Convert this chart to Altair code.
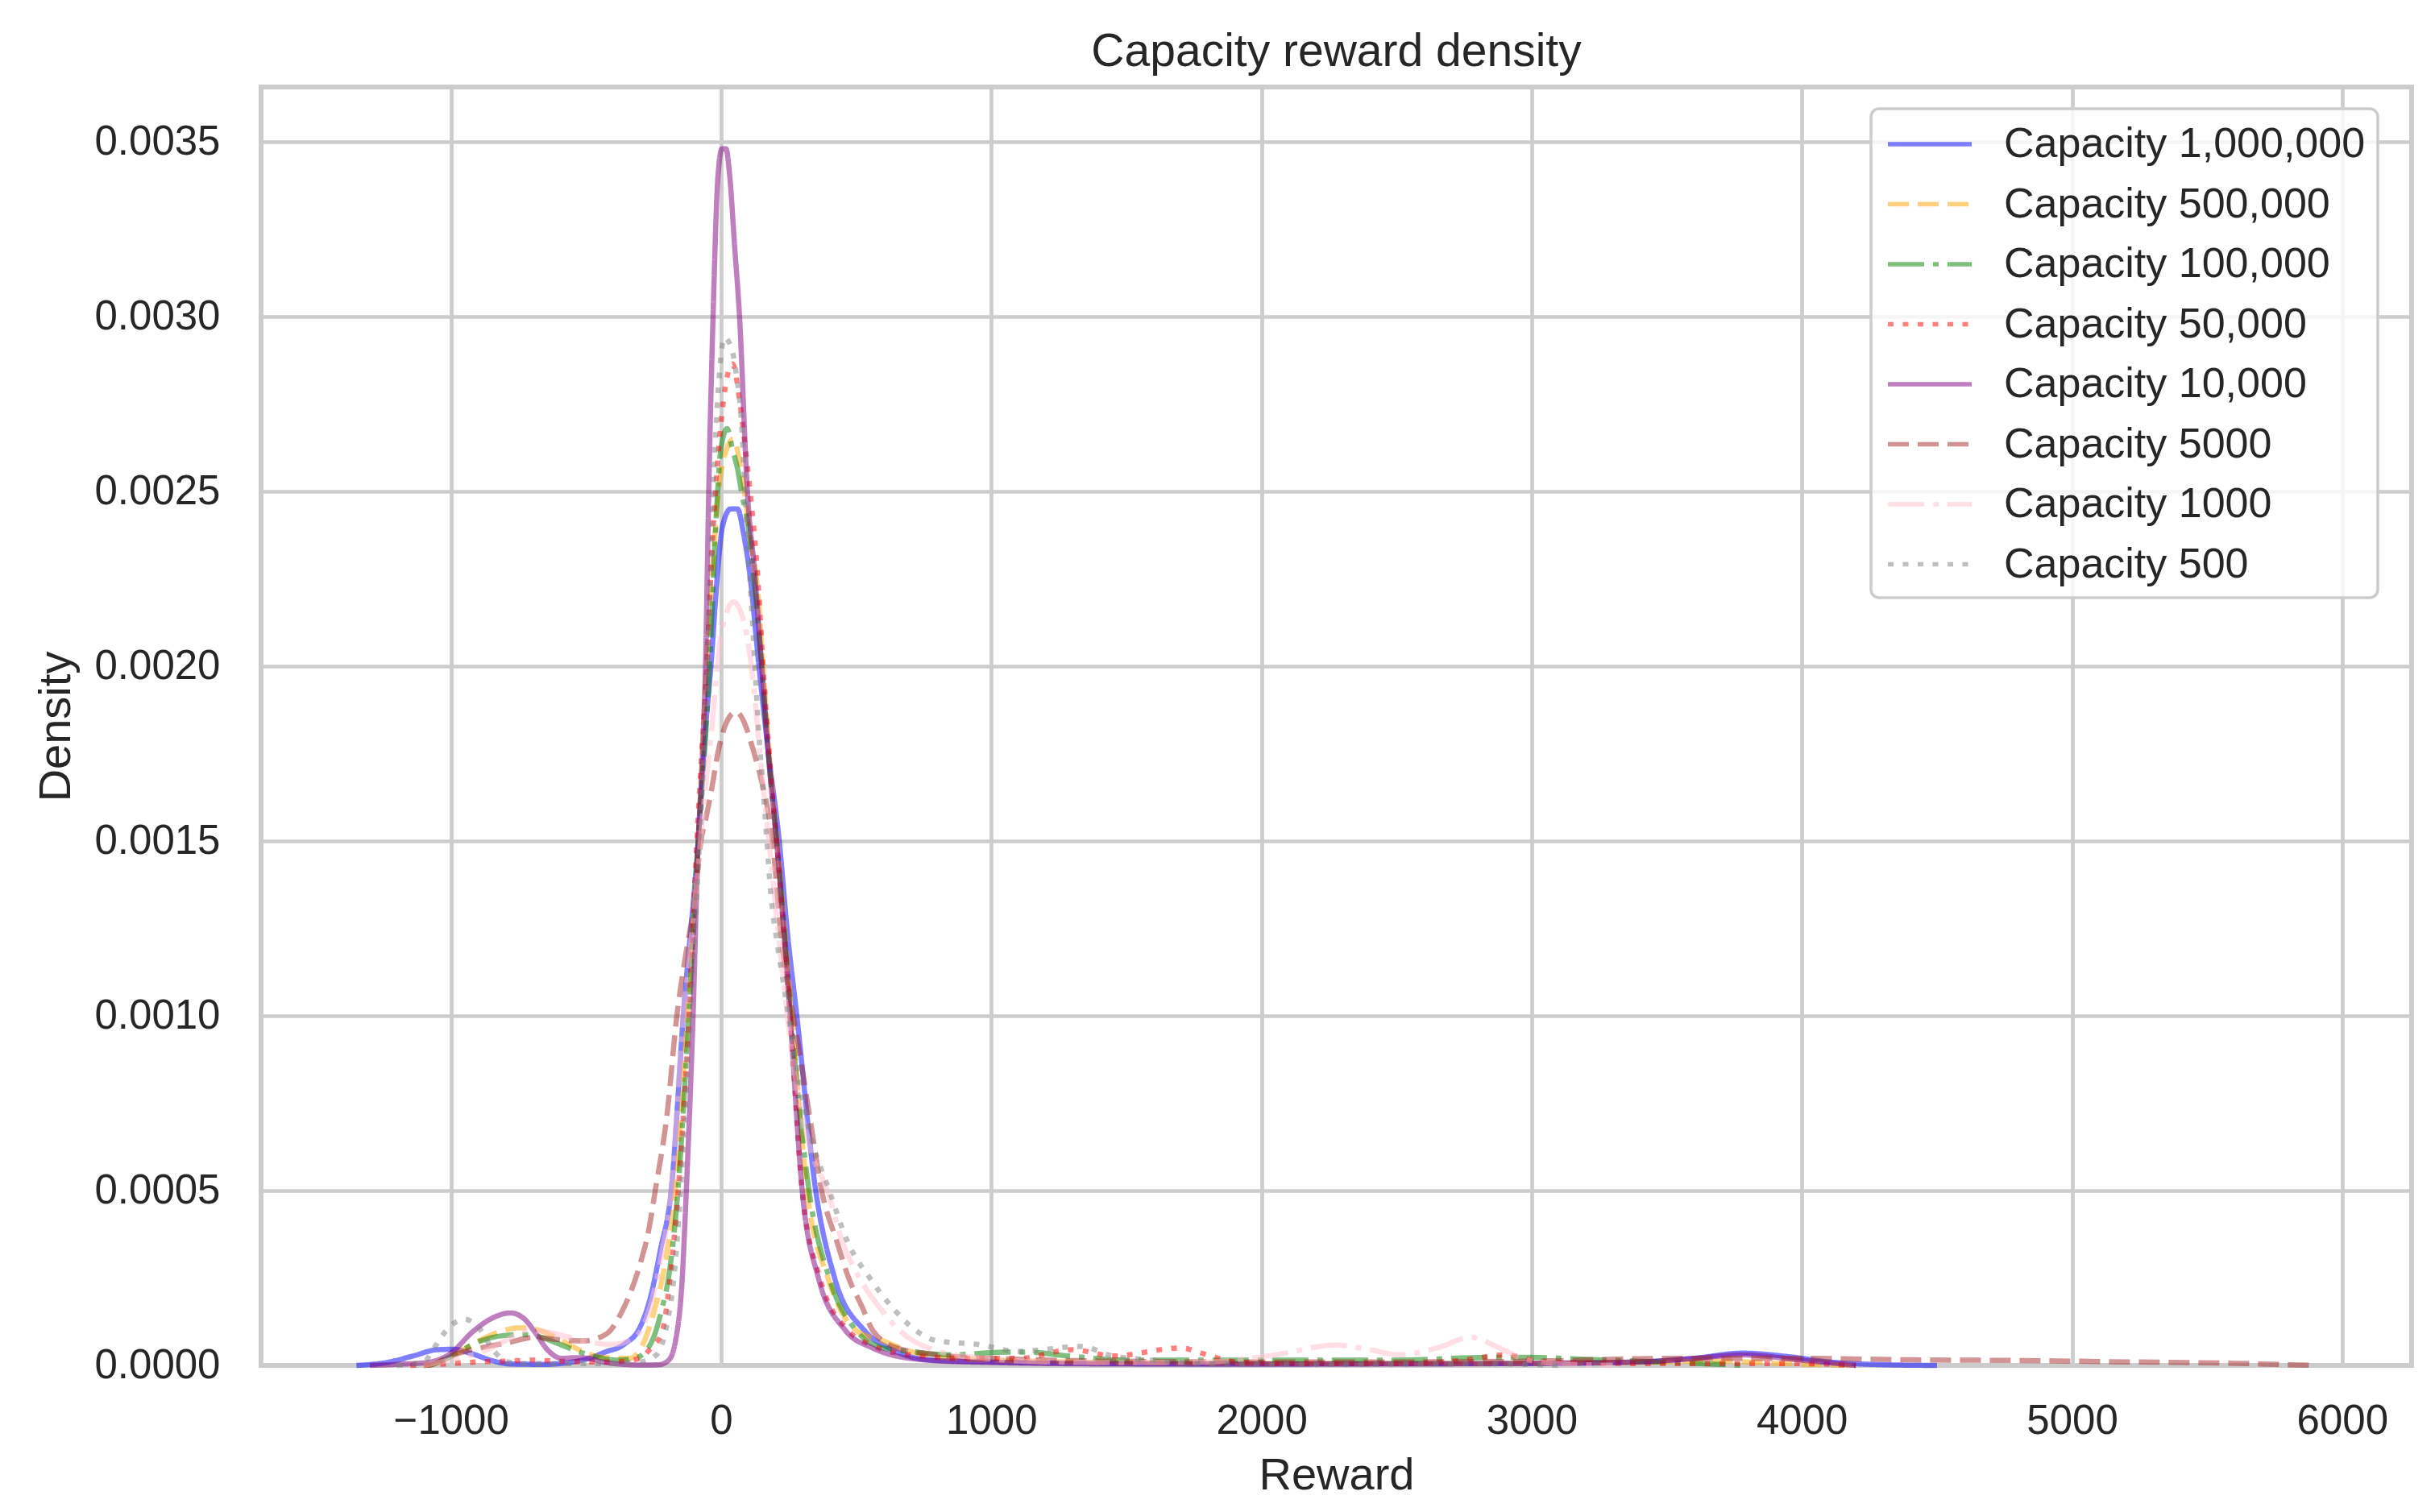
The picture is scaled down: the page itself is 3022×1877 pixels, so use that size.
import altair as alt
import pandas as pd

FONT = "Liberation Sans"
TEXT = "#262626"

series_names = [
    "Capacity 1,000,000", "Capacity 500,000", "Capacity 100,000", "Capacity 50,000",
    "Capacity 10,000", "Capacity 5000", "Capacity 1000", "Capacity 500",
]
series_colors = ["#0000ff", "#ffa500", "#008000", "#ff0000", "#800080", "#a52a2a", "#ffc0cb", "#808080"]
series_dashes = [[1, 0], [26, 11], [45, 11, 7, 11], [7, 11.5], [1, 0], [26, 11], [45, 11, 7, 11], [7, 11.5]]

cap_1m_x = [-1350, -1240, -1140, -1050, -990, -930, -840, -780, -650, -550,
            -490, -430, -360, -300, -260, -225, -185, -140, -85, -60,
            -35, -20, 5, 35, 60, 85, 105, 140, 175, 215,
            245, 280, 350, 420, 530, 620, 780, 1000, 1500, 2000,
            2500, 3000, 3400, 3600, 3780, 3950, 4100, 4300, 4500]
cap_1m_y = [0, 8e-6, 2.7e-5, 4.5e-5, 4.6e-5, 3.5e-5, 1.2e-5, 4e-6, 3e-6, 1e-5,
            2e-5, 3.8e-5, 6e-5, 1.1e-4, 2e-4, 3.3e-4, 5e-4, 1e-3, 1.5e-3, 1.8e-3,
            2.03e-3, 2.2e-3, 2.4e-3, 2.45e-3, 2.45e-3, 2.37e-3, 2.27e-3, 2e-3, 1.75e-3, 1.5e-3,
            1.24e-3, 1e-3, 5e-4, 2.5e-4, 1e-4, 5e-5, 1.5e-5, 1e-5, 5e-6, 4e-6,
            5e-6, 5e-6, 1e-5, 2e-5, 3.5e-5, 2.5e-5, 1e-5, 2e-6, 0]

cap_500k_x = [-1100, -1070, -990, -890, -820, -750, -690, -610, -540, -440,
              -340, -290, -250, -210, -170, -125, -85, -55, -30, -10,
              20, 45, 70, 95, 110, 135, 155, 183, 210, 238,
              262, 318, 395, 500, 600, 700, 800, 1000, 1500, 2000,
              2500, 3000, 3500, 3700, 3900, 4200]
cap_500k_y = [0, 3e-6, 3e-5, 7.3e-5, 9.6e-5, 1.08e-4, 1.04e-4, 8e-5, 5e-5, 2.3e-5,
              2e-5, 6e-5, 1.5e-4, 2.8e-4, 5e-4, 1e-3, 1.5e-3, 2e-3, 2.3e-3, 2.5e-3,
              2.62e-3, 2.65e-3, 2.58e-3, 2.45e-3, 2.35e-3, 2.22e-3, 2e-3, 1.7e-3, 1.48e-3, 1.22e-3,
              1e-3, 5e-4, 2.5e-4, 1e-4, 7e-5, 4e-5, 2.5e-5, 1.5e-5, 8e-6, 6e-6,
              6e-6, 6e-6, 1e-5, 1.2e-5, 6e-6, 0]

cap_100k_x = [-1100, -1070, -990, -890, -810, -730, -690, -590, -490, -390,
              -320, -280, -250, -220, -195, -160, -120, -85, -45, -35,
              -25, -13, -3, 22, 42, 62, 75, 100, 125, 150,
              180, 208, 236, 258, 325, 400, 500, 600, 700, 850,
              1050, 1130, 1283, 1500, 2000, 2500, 2850, 3000, 3175, 3400,
              3600, 3800]
cap_100k_y = [0, 3e-6, 3e-5, 7e-5, 8.5e-5, 8.8e-5, 8.5e-5, 5.8e-5, 3e-5, 1.5e-5,
              2e-5, 4e-5, 8e-5, 1.6e-4, 2.5e-4, 5e-4, 1e-3, 1.5e-3, 1.97e-3, 2.14e-3,
              2.32e-3, 2.5e-3, 2.61e-3, 2.68e-3, 2.62e-3, 2.56e-3, 2.5e-3, 2.4e-3, 2.22e-3, 2e-3,
              1.7e-3, 1.48e-3, 1.22e-3, 1e-3, 5e-4, 2.5e-4, 1e-4, 5e-5, 4e-5, 3e-5,
              3.8e-5, 3.8e-5, 2.7e-5, 1.5e-5, 1.5e-5, 1.5e-5, 2.3e-5, 2.3e-5, 1.8e-5, 1.2e-5,
              6e-6, 0]

cap_50k_x = [-1150, -1000, -900, -800, -700, -600, -500, -400, -300, -260,
             -219, -189, -159, -119, -90, -72, -53, -38, -21, 0,
             20, 42, 70, 90, 107, 135, 155, 183, 205, 232,
             255, 300, 365, 470, 550, 700, 900, 1100, 1300, 1450,
             1700, 1800, 1900, 2100, 2500, 2750, 2900, 3050, 3500, 4000, 4200]
cap_50k_y = [0, 5e-6, 1e-5, 1.2e-5, 1.5e-5, 1.2e-5, 1e-5, 1e-5, 2e-5, 5e-5,
             9.4e-5, 2.5e-4, 5e-4, 1e-3, 1.5e-3, 1.75e-3, 2e-3, 2.27e-3, 2.5e-3, 2.7e-3,
             2.82e-3, 2.865e-3, 2.75e-3, 2.62e-3, 2.5e-3, 2.26e-3, 2e-3, 1.7e-3, 1.5e-3, 1.24e-3,
             1e-3, 5e-4, 2.5e-4, 1e-4, 6e-5, 3e-5, 2e-5, 2e-5, 4.5e-5, 2.7e-5,
             5e-5, 3e-5, 1e-5, 5e-6, 5e-6, 1.5e-5, 3e-5, 1e-5, 5e-6, 5e-6, 0]

cap_10k_x = [-1300, -1200, -1090, -1000, -920, -840, -780, -730, -690, -640,
             -590, -540, -490, -440, -360, -290, -230, -194, -169, -144,
             -129, -104, -85, -71, -58, -46, -30, -12, 3, 18,
             32, 50, 68, 97, 125, 150, 180, 205, 232, 255,
             300, 360, 460, 560, 700, 900, 1500, 2500, 3400, 3600,
             3780, 4000, 4200]
cap_10k_y = [0, 3e-6, 8e-6, 3.5e-5, 9.6e-5, 1.38e-4, 1.5e-4, 1.34e-4, 9.6e-5, 4.2e-5,
             2e-5, 2.2e-5, 2e-5, 1e-5, 3e-6, 1e-6, 2e-6, 1.5e-5, 7e-5, 2.5e-4,
             5e-4, 1e-3, 1.5e-3, 1.71e-3, 2e-3, 2.5e-3, 3e-3, 3.4e-3, 3.48e-3, 3.48e-3,
             3.4e-3, 3.2e-3, 3e-3, 2.5e-3, 2.26e-3, 2e-3, 1.7e-3, 1.5e-3, 1.24e-3, 1e-3,
             5e-4, 2.5e-4, 1e-4, 5e-5, 2e-5, 1e-5, 4e-6, 4e-6, 1e-5, 2e-5,
             3e-5, 1.5e-5, 0]

cap_5000_x = [-1100, -1070, -990, -890, -790, -690, -590, -510, -450, -410,
              -370, -330, -300, -270, -244, -200, -164, -130, -100, -75,
              -55, -35, -10, 20, 55, 85, 115, 150, 170, 190,
              220, 260, 285, 330, 372, 430, 472, 520, 561, 650,
              800, 1000, 1500, 2000, 2500, 3000, 3500, 4000, 4400, 4800,
              5200, 5600, 5800, 5900]
cap_5000_y = [0, 3e-6, 3e-5, 5e-5, 6.5e-5, 8e-5, 7.3e-5, 7e-5, 8e-5, 1e-4,
              1.5e-4, 2.2e-4, 2.9e-4, 3.8e-4, 5e-4, 7.2e-4, 1e-3, 1.18e-3, 1.32e-3, 1.5e-3,
              1.57e-3, 1.65e-3, 1.76e-3, 1.84e-3, 1.87e-3, 1.84e-3, 1.77e-3, 1.67e-3, 1.6e-3, 1.5e-3,
              1.24e-3, 1.03e-3, 9.2e-4, 7e-4, 5e-4, 3.5e-4, 2.5e-4, 1.7e-4, 1e-4, 5e-5,
              3e-5, 2e-5, 1.2e-5, 1e-5, 1e-5, 1.2e-5, 2e-5, 2e-5, 1.6e-5, 1.4e-5,
              1e-5, 6e-6, 2e-6, 0]

cap_1000_x = [-1100, -980, -880, -800, -720, -640, -560, -480, -400, -320,
              -270, -225, -185, -140, -100, -65, -35, -20, 0, 45,
              80, 110, 150, 190, 230, 280, 330, 393, 450, 512,
              595, 660, 805, 977, 1200, 1500, 1800, 2050, 2275, 2400,
              2510, 2650, 2775, 2880, 2965, 3100, 3300]
cap_1000_y = [0, 2e-5, 4e-5, 7e-5, 1e-4, 9.5e-5, 8e-5, 6.5e-5, 6e-5, 8e-5,
              1.5e-4, 3e-4, 5e-4, 1e-3, 1.3e-3, 1.6e-3, 1.82e-3, 1.95e-3, 2.09e-3, 2.184e-3,
              2.14e-3, 2.01e-3, 1.7e-3, 1.4e-3, 1.1e-3, 8e-4, 6.2e-4, 5e-4, 3.5e-4, 2.5e-4,
              1.57e-4, 1e-4, 4e-5, 2e-5, 1e-5, 8e-6, 1e-5, 3e-5, 5.8e-5, 4.5e-5,
              3e-5, 5e-5, 8e-5, 5e-5, 2e-5, 5e-6, 0]

cap_500_x = [-1200, -1100, -1070, -1040, -1000, -950, -900, -840, -790, -700,
             -500, -300, -240, -200, -175, -150, -115, -80, -50, -30,
             -10, 12, 42, 57, 72, 95, 118, 140, 160, 185,
             205, 225, 245, 280, 330, 400, 470, 550, 640, 720,
             800, 950, 1100, 1330, 1450, 1600, 1800, 2200, 2800, 3100]
cap_500_y = [0, 1e-5, 4e-5, 7.7e-5, 1.14e-4, 1.32e-4, 1.1e-4, 4e-5, 1e-5, 5e-6,
             5e-6, 1e-5, 3e-5, 1.2e-4, 2.5e-4, 5e-4, 1e-3, 1.5e-3, 2e-3, 2.5e-3,
             2.8e-3, 2.94e-3, 2.9e-3, 2.83e-3, 2.73e-3, 2.4e-3, 2.1e-3, 1.8e-3, 1.6e-3, 1.34e-3,
             1.22e-3, 1.12e-3, 1.02e-3, 8.5e-4, 6.6e-4, 5e-4, 3.5e-4, 2.5e-4, 1.6e-4, 1e-4,
             7e-5, 6e-5, 4e-5, 5.4e-5, 2.7e-5, 1.5e-5, 5e-6, 3e-6, 5e-6, 0]

x_ticks = [-1000, 0, 1000, 2000, 3000, 4000, 5000, 6000]
y_ticks = [0, 0.0005, 0.001, 0.0015, 0.002, 0.0025, 0.003, 0.0035]

all_x = [cap_1m_x, cap_500k_x, cap_100k_x, cap_50k_x, cap_10k_x, cap_5000_x, cap_1000_x, cap_500_x]
all_y = [cap_1m_y, cap_500k_y, cap_100k_y, cap_50k_y, cap_10k_y, cap_5000_y, cap_1000_y, cap_500_y]

rows = []
for name, xs, ys in zip(series_names, all_x, all_y):
    for xv, yv in zip(xs, ys):
        rows.append({"series": name, "reward": xv, "density": yv})
df = pd.DataFrame(rows)

legend = alt.Legend(
    title=None, orient="none", legendX=1998, legendY=27,
    symbolType="M-2,0H2", symbolSize=2704, symbolStrokeWidth=5.5, symbolOpacity=0.5,
    symbolOffset=29, labelOffset=63,
    labelFont=FONT, labelFontSize=52, labelColor=TEXT, labelLimit=0,
    padding=15, rowPadding=19.5,
    strokeColor="#cccccc", fillColor="rgba(255,255,255,0.8)", cornerRadius=10,
)

chart = alt.Chart(df).mark_line(
    strokeWidth=6.5, strokeOpacity=0.5, interpolate="monotone", strokeCap="butt"
).encode(
    x=alt.X("reward:Q",
            scale=alt.Scale(domain=[-1703, 6257], nice=False, zero=False),
            axis=alt.Axis(values=x_ticks, title="Reward", labelPadding=84,
                          labelBaseline="alphabetic",
                          labelExpr="datum.value < 0 ? '\u2212' + format(-datum.value, 'd') : format(datum.value, 'd')",
                          titleBaseline="alphabetic", titleY=153)),
    y=alt.Y("density:Q",
            scale=alt.Scale(domain=[0, 0.003657], nice=False, zero=False),
            axis=alt.Axis(values=y_ticks, format=".4f", title="Density", labelPadding=51,
                          titleBaseline="alphabetic", titleX=-238)),
    color=alt.Color("series:N", sort=series_names,
                    scale=alt.Scale(domain=series_names, range=series_colors), legend=legend),
    strokeDash=alt.StrokeDash("series:N", sort=series_names,
                              scale=alt.Scale(domain=series_names, range=series_dashes), legend=legend),
).properties(
    width=2669, height=1587,
    autosize=alt.AutoSizeParams(type="none"),
    padding={"left": 316, "top": 100, "right": 10, "bottom": 170},
    title=alt.TitleParams("Capacity reward density", font=FONT, fontSize=57, color=TEXT,
                          fontWeight="normal", anchor="middle", baseline="alphabetic", offset=-31),
).configure_axis(
    grid=True, gridColor="#cccccc", gridWidth=4.7, domain=False, ticks=False, tickSize=0,
    labelFont=FONT, labelFontSize=51, labelColor=TEXT,
    titleFont=FONT, titleFontSize=56, titleColor=TEXT, titleFontWeight="normal",
).configure_view(
    stroke="#cccccc", strokeWidth=6
).configure_legend(
    strokeWidth=3.5
)

chart.save("out.html", embed_options={"renderer": "svg", "actions": False})
